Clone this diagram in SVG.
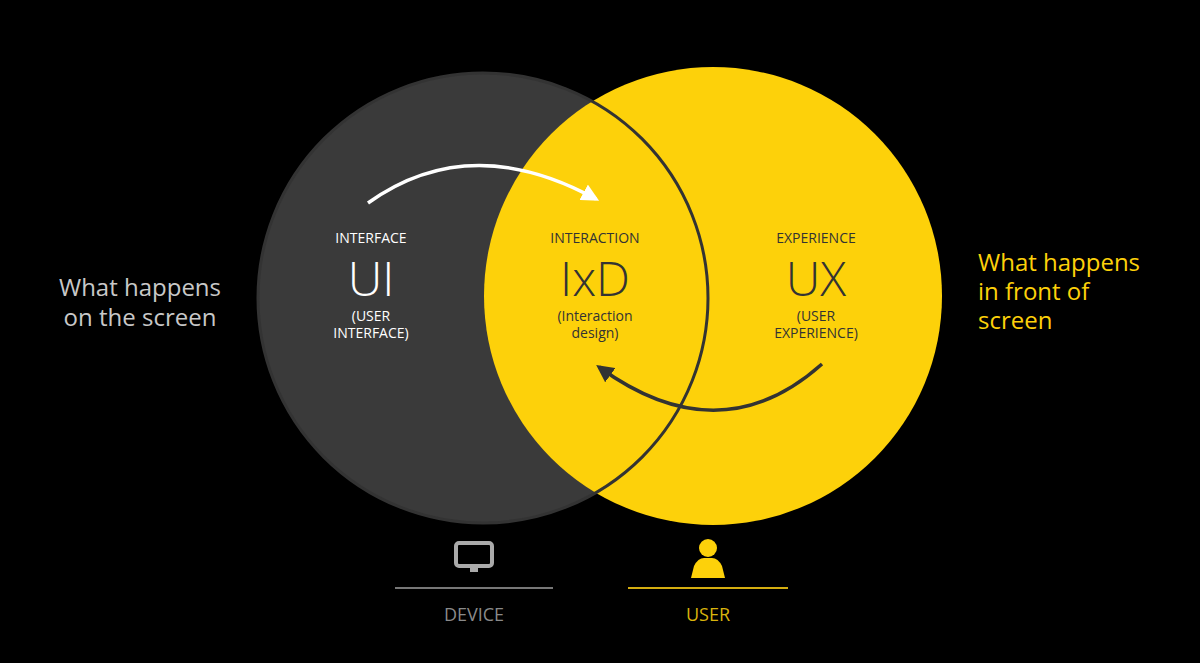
<svg xmlns="http://www.w3.org/2000/svg" width="1200" height="663" viewBox="0 0 1200 663">
<style>
text{font-family:"Open Sans","Noto Sans",sans-serif;text-anchor:middle}
.s{font-size:14px}.b{font-size:48px;font-weight:300}
.w{fill:#ffffff}.d{fill:#333333}
</style>
<defs>
<marker id="aw" viewBox="0 0 10 10" refX="8" refY="5" markerWidth="5" markerHeight="5" orient="auto"><path d="M0,0L10,5L0,10z" fill="#fff"/></marker>
<marker id="ad" viewBox="0 0 10 10" refX="8" refY="5" markerWidth="5" markerHeight="5" orient="auto"><path d="M0,0L10,5L0,10z" fill="#333"/></marker>
</defs>
<rect width="1200" height="663" fill="#000"/>
<g id="ui-circle"><circle cx="483" cy="298" r="225" fill="#3a3a3a"/></g>
<g id="ux-circle"><circle cx="713" cy="296" r="229" fill="#fdd10a"/></g>
<g id="outline"><circle cx="483" cy="298" r="225" fill="none" stroke="#333" stroke-width="3"/></g>
<g id="connectors">
<path d="M368,203 Q470,130 596,199" fill="none" stroke="#fff" stroke-width="3.5" marker-end="url(#aw)"/>
<path d="M822,364 Q720,455 599,367" fill="none" stroke="#333" stroke-width="3.5" marker-end="url(#ad)"/>
</g>
<g id="ui"><text x="371" y="243" class="s w">INTERFACE</text><text x="371" y="296" class="b w">UI</text><text x="371" y="321" class="s w">(USER</text><text x="371" y="338" class="s w">INTERFACE)</text></g>
<g id="ixd"><text x="595" y="243" class="s d">INTERACTION</text><text x="595" y="296" class="b d">IxD</text><text x="595" y="321" class="s d">(Interaction</text><text x="595" y="338" class="s d">design)</text></g>
<g id="ux"><text x="816" y="243" class="s d">EXPERIENCE</text><text x="816" y="296" class="b d">UX</text><text x="816" y="321" class="s d">(USER</text><text x="816" y="338" class="s d">EXPERIENCE)</text></g>
<g id="left-label" fill="#c8c8c8" font-size="24"><text x="140" y="296">What happens</text><text x="140" y="326">on the screen</text></g>
<g id="right-label" fill="#fdd10a" font-size="24"><text x="978" y="271" style="text-anchor:start">What happens</text><text x="978" y="300" style="text-anchor:start">in front of</text><text x="978" y="329" style="text-anchor:start">screen</text></g>
<g id="device">
<rect x="456" y="543" width="36" height="23" rx="3" fill="none" stroke="#aaa" stroke-width="4"/>
<rect x="470" y="566" width="8" height="6" fill="#aaa"/>
<line x1="395" y1="588" x2="553" y2="588" stroke="#777" stroke-width="2"/>
<text x="474" y="621" fill="#8a8a8a" font-size="18">DEVICE</text>
</g>
<g id="user">
<circle cx="708" cy="548" r="9" fill="#fdd10a"/>
<path d="M691,578 L694,566 Q698,558 704,558 L712,558 Q718,558 722,566 L725,578 Z" fill="#fdd10a"/>
<line x1="628" y1="588" x2="788" y2="588" stroke="#d4ad10" stroke-width="2"/>
<text x="708" y="621" fill="#d9b40c" font-size="18">USER</text>
</g>
</svg>
